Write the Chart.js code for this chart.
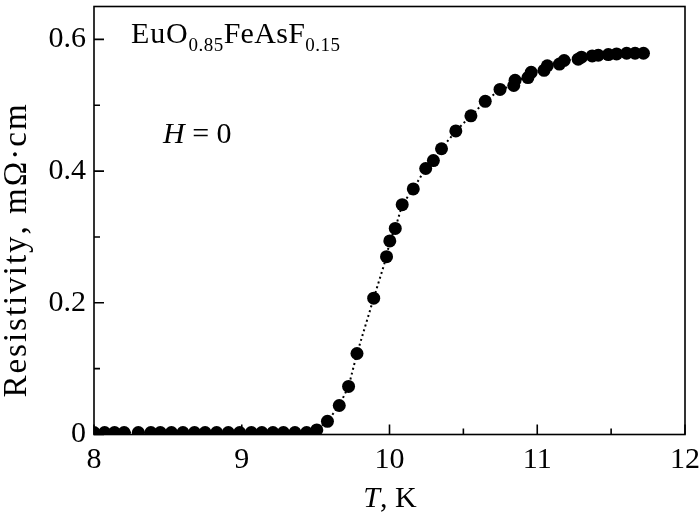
<!DOCTYPE html>
<html>
<head>
<meta charset="utf-8">
<script src="https://cdn.jsdelivr.net/npm/chart.js@4.4.1/dist/chart.umd.min.js"></script>
<style>
    body { margin: 0; background: #fff; }
    #wrap { width: 700px; height: 514px; }
</style>
</head>
<body>
<div id="wrap"><canvas id="resChart" width="700" height="514"></canvas></div>
<script>
// temperature, K
const temps = [
    8.00, 8.072, 8.139, 8.204, 8.30, 8.385, 8.449, 8.524, 8.602, 8.68,
    8.752, 8.83, 8.909, 8.986, 9.065, 9.136, 9.211, 9.282, 9.36, 9.439,
    9.508, 9.58, 9.66, 9.723, 9.78, 9.893, 9.98, 10.002, 10.039, 10.086,
    10.161, 10.245, 10.297, 10.352, 10.449, 10.551, 10.648, 10.748, 10.841, 10.85,
    10.937, 10.959, 11.046, 11.068, 11.15, 11.182, 11.277, 11.299, 11.372, 11.413,
    11.481, 11.537, 11.605, 11.662, 11.719
];

// resistivity, mOhm*cm
const resistivity = [
    0.003, 0.003, 0.003, 0.003, 0.003, 0.003, 0.003, 0.003, 0.003, 0.003,
    0.003, 0.003, 0.003, 0.003, 0.003, 0.003, 0.003, 0.003, 0.003, 0.003,
    0.007, 0.020, 0.044, 0.073, 0.123, 0.207, 0.270, 0.294, 0.313, 0.349,
    0.373, 0.404, 0.416, 0.434, 0.461, 0.484, 0.506, 0.524, 0.530, 0.538,
    0.542, 0.550, 0.553, 0.560, 0.5625, 0.568, 0.570, 0.573, 0.575, 0.576,
    0.577, 0.578, 0.579, 0.579, 0.579
];

const xTicks = [8, 9, 10, 11, 12];
const xMinorTicks = [8.5, 9.5, 10.5, 11.5];
const yTicks = [0, 0.2, 0.4, 0.6];
const yMinorTicks = [0.1, 0.3, 0.5];

const serif = "'Liberation Serif', 'DejaVu Serif', serif";

// draws text char by char with extra spacing, returns end x
function spacedText(ctx, str, x, y, gap) {
    for (const ch of str) {
        ctx.fillText(ch, x, y);
        x += ctx.measureText(ch).width + gap;
    }
    return x;
}

// frame, inward ticks and the text labels
const decorPlugin = {
    id: "decor",
    afterDraw(chart) {
        const ctx = chart.ctx;
        const area = chart.chartArea;
        const xs = chart.scales.x;
        const ys = chart.scales.y;

        ctx.save();
        ctx.strokeStyle = "#000";
        ctx.lineWidth = 1.6;
        ctx.strokeRect(area.left, area.top, area.right - area.left, area.bottom - area.top);

        ctx.beginPath();
        xTicks.forEach(v => {
            const px = xs.getPixelForValue(v);
            ctx.moveTo(px, area.bottom);
            ctx.lineTo(px, area.bottom - 10);
        });
        xMinorTicks.forEach(v => {
            const px = xs.getPixelForValue(v);
            ctx.moveTo(px, area.bottom);
            ctx.lineTo(px, area.bottom - 6);
        });
        yTicks.forEach(v => {
            const py = ys.getPixelForValue(v);
            ctx.moveTo(area.left, py);
            ctx.lineTo(area.left + 10, py);
        });
        yMinorTicks.forEach(v => {
            const py = ys.getPixelForValue(v);
            ctx.moveTo(area.left, py);
            ctx.lineTo(area.left + 6, py);
        });
        ctx.stroke();

        ctx.fillStyle = "#000";
        ctx.textBaseline = "alphabetic";

        // sample formula with subscripts
        let x = 131;
        const parts = [
            ["EuO", "30px", 43, 0.8],
            ["0.85", "19px", 51, 0.5],
            ["FeAsF", "30px", 43, 0.3],
            ["0.15", "19px", 51, 0.5]
        ];
        parts.forEach(p => {
            ctx.font = p[1] + " " + serif;
            x = spacedText(ctx, p[0], x, p[2], p[3]);
        });

        // H = 0
        ctx.font = "italic 30px " + serif;
        ctx.fillText("H", 163, 143);
        const hw = ctx.measureText("H").width;
        ctx.font = "30px " + serif;
        ctx.fillText(" = 0", 163 + hw, 143);

        // x axis title
        ctx.font = "italic 30px " + serif;
        const tw = ctx.measureText("T").width;
        ctx.font = "30px " + serif;
        const kw = ctx.measureText(", K").width;
        const x0 = 390 - (tw + kw) / 2;
        ctx.font = "italic 30px " + serif;
        ctx.fillText("T", x0, 507);
        ctx.font = "30px " + serif;
        ctx.fillText(", K", x0 + tw, 507);

        // y axis title
        const label = "Resistivity, mΩ·cm";
        const gap = 2;
        ctx.font = "33px " + serif;
        let len = 0;
        for (const ch of label) len += ctx.measureText(ch).width + gap;
        len -= gap;
        ctx.translate(26, 251);
        ctx.rotate(-Math.PI / 2);
        spacedText(ctx, label, -len / 2, 0, gap);
        ctx.restore();
    }
};

const points = temps.map((t, i) => ({ x: t, y: resistivity[i] }));

new Chart(document.getElementById("resChart"), {
    type: "scatter",
    data: {
        datasets: [{
            data: points,
            showLine: true,
            borderColor: "#000",
            borderWidth: 2,
            borderDash: [2, 3],
            backgroundColor: "#000",
            pointBackgroundColor: "#000",
            pointBorderWidth: 0,
            pointRadius: 6.5,
            pointHoverRadius: 6.5
        }]
    },
    options: {
        responsive: false,
        animation: false,
        devicePixelRatio: 1,
        layout: {
            padding: { top: 1.5, right: 15, left: 0, bottom: 0 }
        },
        plugins: {
            legend: { display: false },
            tooltip: { enabled: false }
        },
        scales: {
            x: {
                type: "linear",
                min: 8,
                max: 12,
                grid: { display: false, drawTicks: false },
                border: { display: false },
                afterFit: scale => {
                    scale.height = 79.5;
                    scale.paddingLeft = 0;
                    scale.paddingRight = 0;
                },
                ticks: {
                    stepSize: 1,
                    padding: 8,
                    maxRotation: 0,
                    color: "#000",
                    font: { family: serif, size: 30 }
                }
            },
            y: {
                type: "linear",
                min: 0,
                max: 0.65,
                grid: { display: false, drawTicks: false },
                border: { display: false },
                afterFit: scale => {
                    scale.width = 94;
                    scale.paddingTop = 0;
                    scale.paddingBottom = 0;
                },
                ticks: {
                    stepSize: 0.2,
                    includeBounds: false,
                    padding: 8,
                    color: "#000",
                    font: { family: serif, size: 30 },
                    callback: v => (v === 0 ? "0" : v.toFixed(1))
                }
            }
        }
    },
    plugins: [decorPlugin]
});
</script>
</body>
</html>
